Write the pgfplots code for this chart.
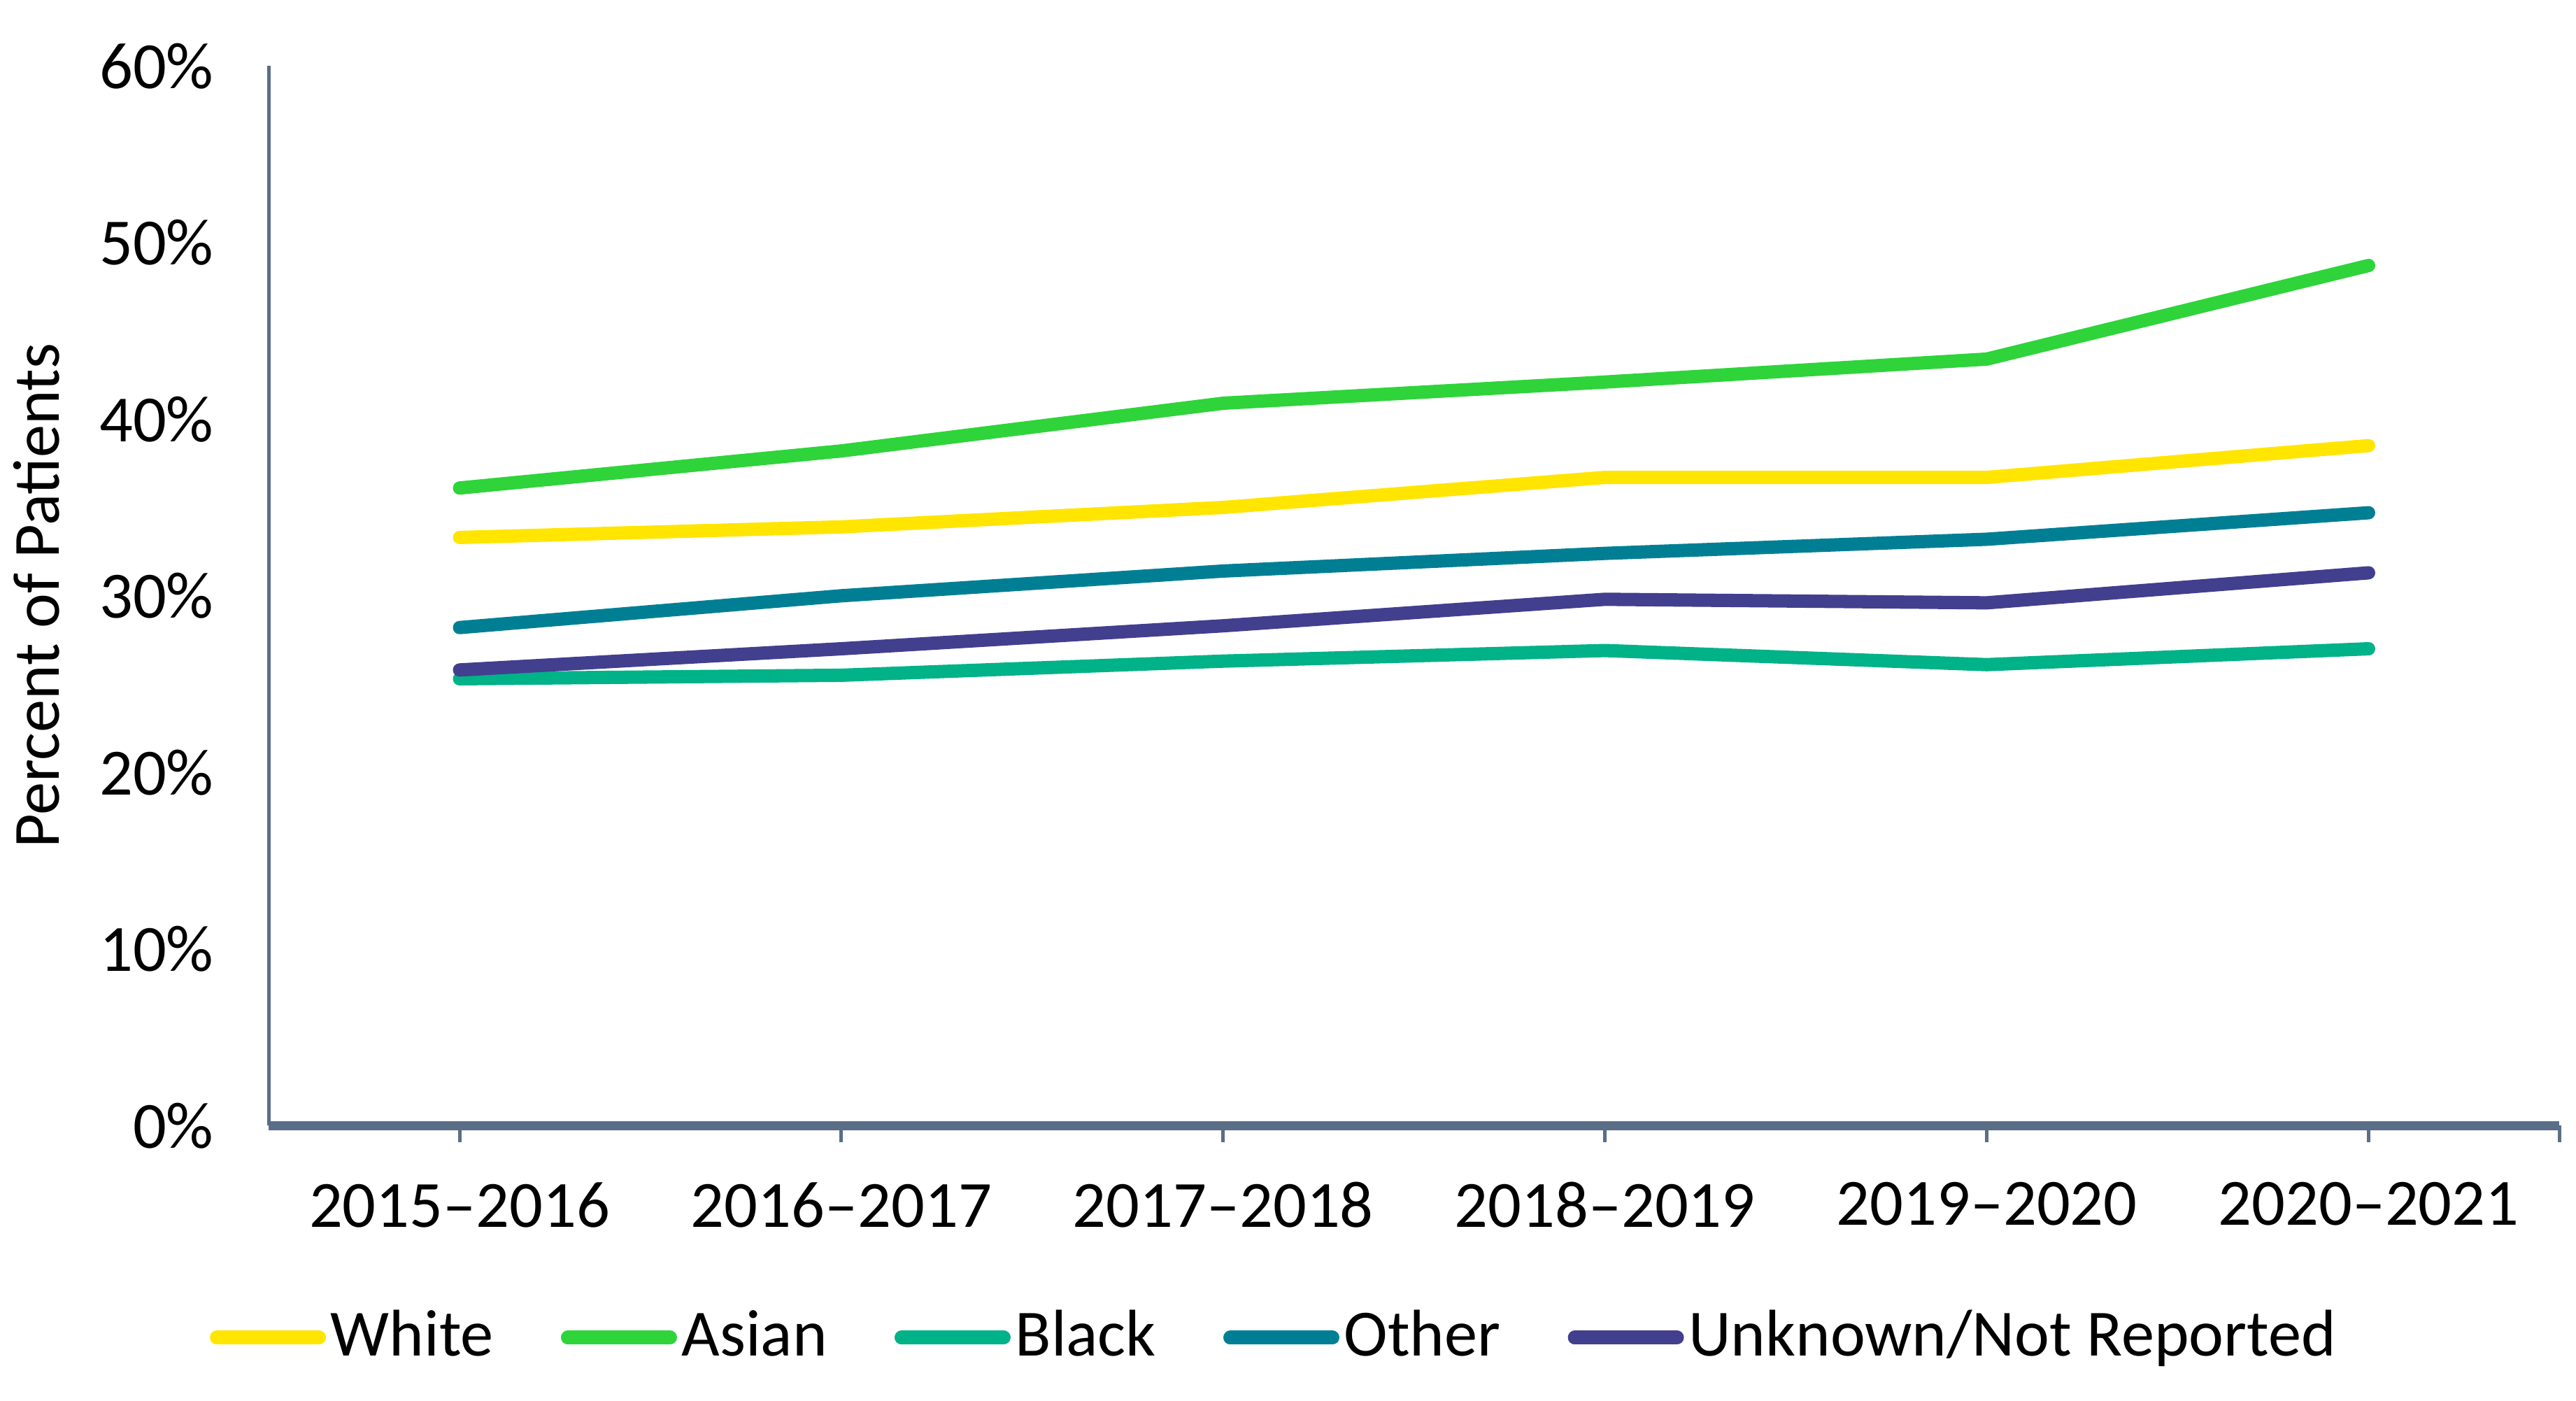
\documentclass[border=0pt]{standalone}
\usepackage{fontspec}
\setmainfont{Carlito}
\usepackage{pgfplots}
\pgfplotsset{compat=1.18}

\definecolor{cWhite}{HTML}{FFE500}
\definecolor{cAsian}{HTML}{2ED43A}
\definecolor{cBlack}{HTML}{00B287}
\definecolor{cOther}{HTML}{007F94}
\definecolor{cUnknown}{HTML}{423F8F}
\definecolor{axisgray}{HTML}{5A6E87}

\begin{document}
\begin{tikzpicture}[font=\fontsize{11.4pt}{13.7pt}\selectfont]
% page frame: the axis box sits at the origin
\useasboundingbox (-1.63cm,-1.67cm) rectangle (14.0cm,6.83cm);
\begin{axis}[
   width=13.9cm, height=6.43cm,
   scale only axis,
   xmin=-0.5, xmax=5.5,
   ymin=0, ymax=60,
   axis lines*=left,
   x axis line style={line width=1.6pt, color=axisgray},
   y axis line style={line width=0.6pt, color=axisgray},
   xtick={0,1,2,3,4,5},
   xticklabels={2015--2016,2016--2017,2017--2018,2018--2019,2019--2020,2020--2021},
   extra x ticks={5.5},
   extra x tick labels={},
   tick align=outside,
   major tick length=0.1cm,
   xtick style={color=axisgray, line width=0.6pt},
   ytick={0,10,...,60},
   ytick style={draw=none},
   yticklabel={\pgfmathprintnumber{\tick}\%},
   /pgf/number format/assume math mode=true,
   yticklabel style={xshift=-0.11cm},
   xticklabel style={yshift=-0.12cm},
   ylabel={Percent of Patients},
   legend style={
       at={(0.441,-0.2)},
       anchor=center,
       draw=none,
       legend columns=-1,
       /tikz/every even column/.append style={column sep=0.34cm},
   },
   legend image code/.code={%
       \path (0cm,0cm) -- (0.58cm,0cm);
       \draw[#1, overlay, line width=2.4pt, line cap=round] (0cm,0cm) -- (0.62cm,0cm);},
   every axis plot/.append style={line width=2.3pt, line cap=round, line join=round},
   clip=false,
]
\addplot[color=cWhite] coordinates {
(0,33.3) (1,33.9) (2,35.0) (3,36.7) (4,36.7) (5,38.5)
};
\addlegendentry{White}
\addplot[color=cAsian] coordinates {
(0,36.1) (1,38.2) (2,40.9) (3,42.1) (4,43.4) (5,48.7)
};
\addlegendentry{Asian}
\addplot[color=cBlack] coordinates {
(0,25.3) (1,25.5) (2,26.3) (3,26.9) (4,26.1) (5,27.0)
};
\addlegendentry{Black}
\addplot[color=cOther] coordinates {
(0,28.2) (1,30.0) (2,31.4) (3,32.4) (4,33.2) (5,34.7)
};
\addlegendentry{Other}
\addplot[color=cUnknown] coordinates {
(0,25.8) (1,27.0) (2,28.3) (3,29.8) (4,29.6) (5,31.3)
};
\addlegendentry{Unknown/Not Reported}
\end{axis}
\end{tikzpicture}
\end{document}
